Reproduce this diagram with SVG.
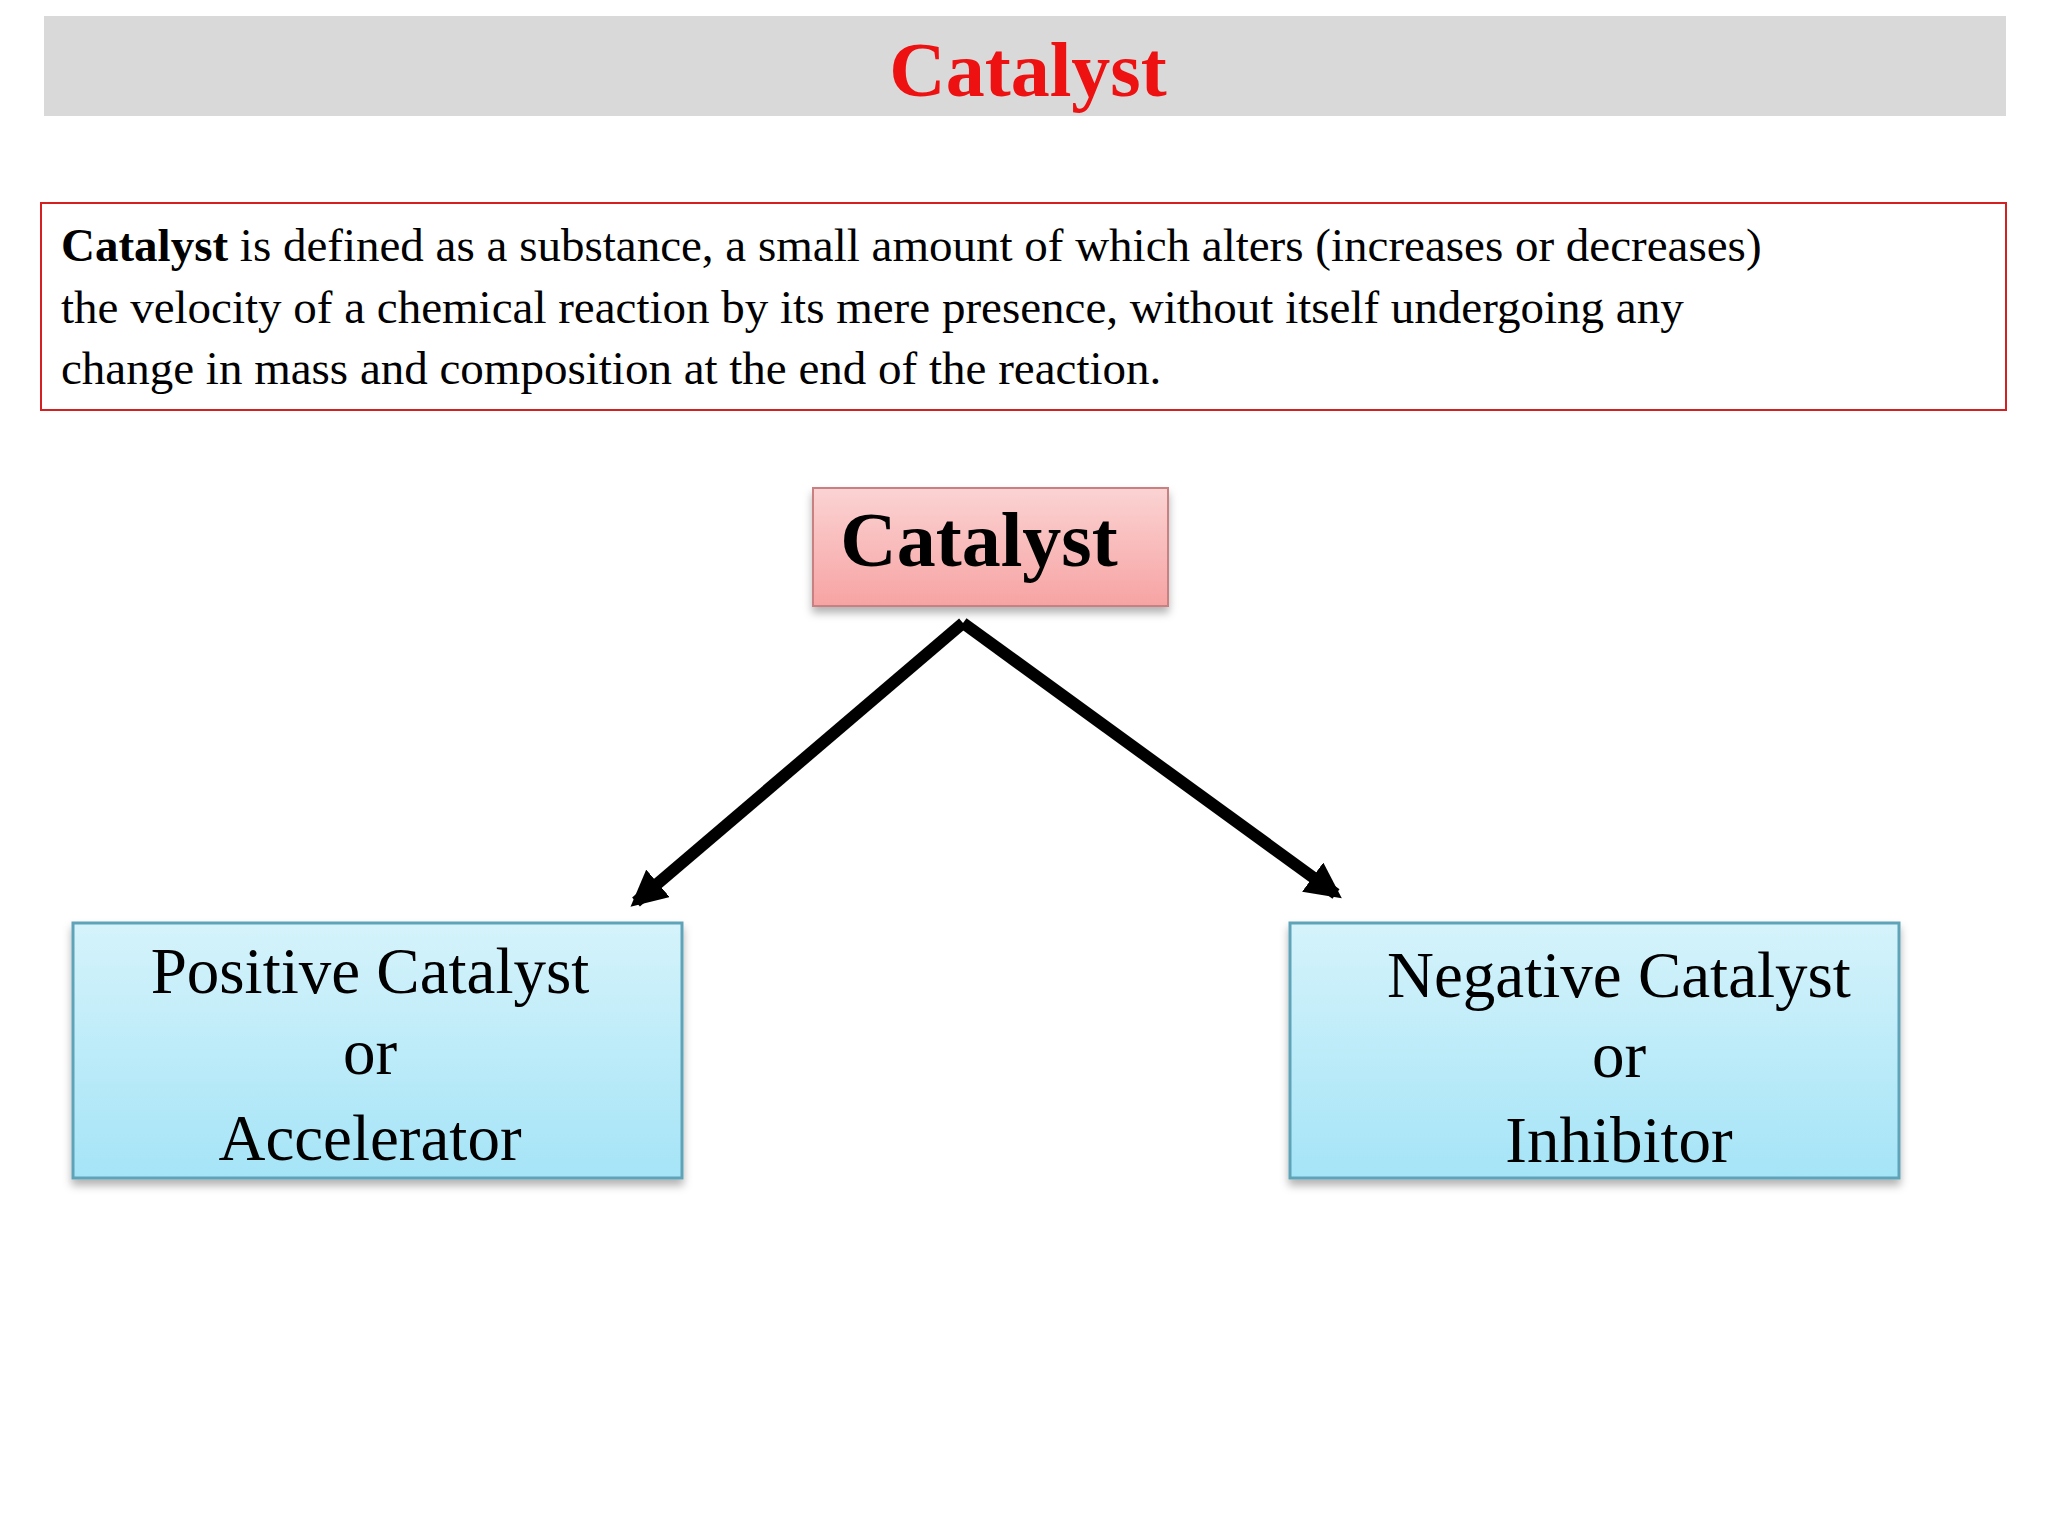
<svg xmlns="http://www.w3.org/2000/svg" width="2048" height="1536" viewBox="0 0 2048 1536">
<style>
.s{font-family:"Liberation Serif","Times New Roman",serif}
.b{font-size:65px;text-anchor:middle;fill:#000}
.d{font-size:47px;fill:#000}
</style>
<defs>
<linearGradient id="pk" x1="0" y1="0" x2="0" y2="1"><stop offset="0" stop-color="#fbd3d3"/><stop offset="1" stop-color="#f7a3a3"/></linearGradient>
<linearGradient id="bl" x1="0" y1="0" x2="0" y2="1"><stop offset="0" stop-color="#d5f3fb"/><stop offset="1" stop-color="#a5e4f7"/></linearGradient>
<filter id="sh" x="-10%" y="-10%" width="120%" height="130%"><feDropShadow dx="0" dy="6" stdDeviation="4" flood-color="#000" flood-opacity="0.3"/></filter>
<marker id="ah" viewBox="0 0 10 10" refX="8" refY="5" markerWidth="3" markerHeight="3" orient="auto"><path d="M0,0 L10,5 L0,10 z" fill="#000"/></marker>
</defs>
<rect width="2048" height="1536" fill="#fff"/>
<g id="header"><rect x="44" y="16" width="1962" height="100" fill="#d9d9d9"/>
<text class="s" x="1028" y="96" font-size="78" font-weight="bold" fill="#ee1111" text-anchor="middle">Catalyst</text></g>
<g id="definition"><rect x="41" y="203" width="1965" height="207" fill="#fff" stroke="#d42020" stroke-width="2"/>
<text class="s d" x="61" y="261"><tspan font-weight="bold">Catalyst</tspan> is defined as a substance, a small amount of which alters (increases or decreases)</text>
<text class="s d" x="61" y="323">the velocity of a chemical reaction by its mere presence, without itself undergoing any</text>
<text class="s d" x="61" y="384">change in mass and composition at the end of the reaction.</text></g>
<g id="connectors" stroke="#000" stroke-width="12" fill="none" stroke-linejoin="miter">
<path d="M963,623 L636,902" marker-end="url(#ah)"/>
<path d="M963,623 L1336,894" marker-end="url(#ah)"/>
</g>
<g id="catalyst"><rect x="813" y="488" width="355" height="118" fill="url(#pk)" stroke="#c98080" stroke-width="2" filter="url(#sh)"/>
<text class="s" x="979" y="566" font-size="78" font-weight="bold" text-anchor="middle">Catalyst</text></g>
<g id="positive"><rect x="73" y="923" width="609" height="255" fill="url(#bl)" stroke="#5fa3b8" stroke-width="3" filter="url(#sh)"/>
<text class="s b" x="370" y="993">Positive Catalyst</text>
<text class="s b" x="370" y="1074">or</text>
<text class="s b" x="370" y="1160">Accelerator</text></g>
<g id="negative"><rect x="1290" y="923" width="609" height="255" fill="url(#bl)" stroke="#5fa3b8" stroke-width="3" filter="url(#sh)"/>
<text class="s b" x="1619" y="997">Negative Catalyst</text>
<text class="s b" x="1619" y="1077">or</text>
<text class="s b" x="1619" y="1162">Inhibitor</text></g>
</svg>
